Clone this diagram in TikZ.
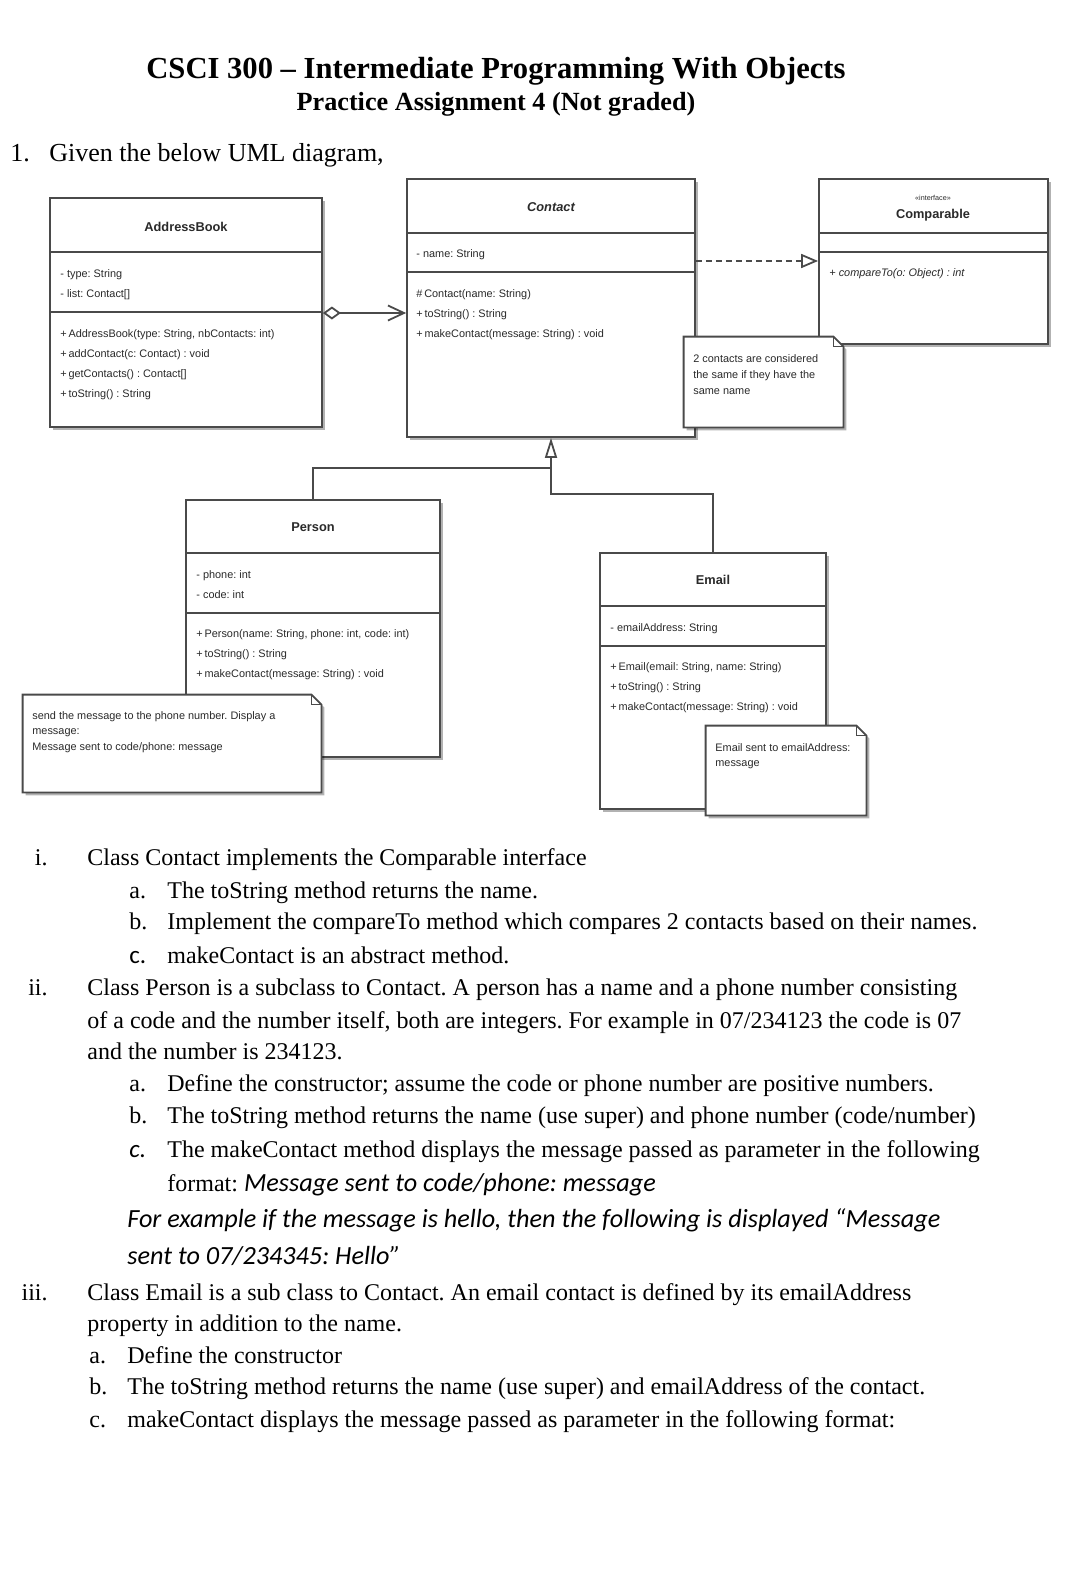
\documentclass[tikz,border=0pt]{standalone}
\usepackage{fontspec}
\setmainfont{Liberation Serif}
\newfontfamily\umlf{Liberation Sans}
\newfontfamily\calib{Carlito}
\usetikzlibrary{arrows.meta,fit,shadows}
\definecolor{umlline}{HTML}{4A4A4A}
\definecolor{umltext}{HTML}{2A2A2A}
\frenchspacing
\begin{document}
\begin{tikzpicture}[x=0.5pt,y=-0.5pt,
  classbox/.style={draw=umlline, line width=0.9pt, fill=white, inner sep=0pt,
    drop shadow={shadow xshift=1.5pt, shadow yshift=-1.5pt, fill=black, opacity=0.3}},
  divline/.style={draw=umlline, line width=0.9pt},
  umlconn/.style={draw=umlline, line width=0.9pt},
  mem/.style={anchor=base west, inner sep=0pt, font=\umlf\fontsize{5.45}{6}\selectfont, text=umltext},
  memit/.style={mem, font=\umlf\itshape\fontsize{5.45}{6}\selectfont},
  ctitle/.style={anchor=base, inner sep=0pt, font=\umlf\bfseries\fontsize{6.4}{7}\selectfont, text=umltext},
  noteframe/.style={inner sep=0pt},
  notepath/.style={draw=umlline, line width=0.9pt, fill=white,
    drop shadow={shadow xshift=1.5pt, shadow yshift=-1.5pt, fill=black, opacity=0.3}},
  body/.style={anchor=base west, inner sep=0pt, font=\fontsize{12}{14}\selectfont},
  bodyr/.style={anchor=base east, inner sep=0pt, font=\fontsize{12}{14}\selectfont},
  cal/.style={anchor=base west, inner sep=0pt, font=\calib\itshape\fontsize{13.1}{15}\selectfont}
]
\fill[white] (0,0) rectangle (1080,1595);
\useasboundingbox (0,0) rectangle (1080,1595);

% ---------- header ----------
\node[anchor=base, inner sep=0pt, font=\bfseries\fontsize{15.3}{18}\selectfont] (t1) at (496,79) {CSCI 300 – Intermediate Programming With Objects};
\node[anchor=base, inner sep=0pt, font=\bfseries\fontsize{13.1}{16}\selectfont] (t2) at (496,111) {Practice Assignment 4 (Not graded)};
\node[anchor=base west, inner sep=0pt, font=\fontsize{13}{15}\selectfont] (q1n) at (10,162) {1.};
\node[anchor=base west, inner sep=0pt, font=\fontsize{13}{15}\selectfont] (q1) at (49,162) {Given the below UML diagram,};

% ---------- class boxes ----------
\node[classbox, fit={(50,198) (322,427)}] (ab) {};
\draw[divline] (ab.west |- 0,252) -- (ab.east |- 0,252);
\draw[divline] (ab.west |- 0,312) -- (ab.east |- 0,312);
\node[ctitle] (abt) at (186,231) {AddressBook};
\node[mem] (ab1) at (60,277) {- type: String};
\node[mem] (ab2) at (60,297) {- list: Contact[]};
\node[mem] (ab3) at (60,337) {+\,AddressBook(type: String, nbContacts: int)};
\node[mem] (ab4) at (60,357) {+\,addContact(c: Contact) : void};
\node[mem] (ab5) at (60,377) {+\,getContacts() : Contact[]};
\node[mem] (ab6) at (60,397) {+\,toString() : String};

\node[classbox, fit={(407,179) (695,437)}] (ct) {};
\draw[divline] (ct.west |- 0,233) -- (ct.east |- 0,233);
\draw[divline] (ct.west |- 0,272) -- (ct.east |- 0,272);
\node[ctitle, font=\umlf\bfseries\itshape\fontsize{6.4}{7}\selectfont] (ctt) at (551,211) {Contact};
\node[mem] (ct1) at (416,257) {- name: String};
\node[mem] (ct2) at (416,297) {\#\,Contact(name: String)};
\node[mem] (ct3) at (416,317) {+\,toString() : String};
\node[mem] (ct4) at (416,337) {+\,makeContact(message: String) : void};

\node[classbox, fit={(819,179) (1048,344)}] (cmp) {};
\draw[divline] (cmp.west |- 0,233) -- (cmp.east |- 0,233);
\draw[divline] (cmp.west |- 0,252) -- (cmp.east |- 0,252);
\node[anchor=base, inner sep=0pt, font=\umlf\fontsize{3.6}{4}\selectfont, text=umltext] (cmps) at (933,200) {«interface»};
\node[ctitle] (cmpt) at (933,218) {Comparable};
\node[memit] (cmp1) at (829,276) {+ compareTo(o: Object) : int};

\node[classbox, fit={(186,500) (440,757)}] (ps) {};
\draw[divline] (ps.west |- 0,553) -- (ps.east |- 0,553);
\draw[divline] (ps.west |- 0,613) -- (ps.east |- 0,613);
\node[ctitle] (pst) at (313,531) {Person};
\node[mem] (ps1) at (196,578) {- phone: int};
\node[mem] (ps2) at (196,598) {- code: int};
\node[mem] (ps3) at (196,637) {+\,Person(name: String, phone: int, code: int)};
\node[mem] (ps4) at (196,657) {+\,toString() : String};
\node[mem] (ps5) at (196,677) {+\,makeContact(message: String) : void};

\node[classbox, fit={(600,553) (826,809)}] (em) {};
\draw[divline] (em.west |- 0,606) -- (em.east |- 0,606);
\draw[divline] (em.west |- 0,646) -- (em.east |- 0,646);
\node[ctitle] (emt) at (713,584) {Email};
\node[mem] (em1) at (610,631) {- emailAddress: String};
\node[mem] (em2) at (610,670) {+\,Email(email: String, name: String)};
\node[mem] (em3) at (610,690) {+\,toString() : String};
\node[mem] (em4) at (610,710) {+\,makeContact(message: String) : void};

% ---------- connectors ----------
\draw[umlconn, {Diamond[open,length=9pt,width=6.5pt]}-{Straight Barb[length=8pt,width=7.5pt]}]
  (ab.east |- 0,313) -- (ct.west |- 0,313);
\draw[umlconn, dash pattern=on 3pt off 2pt, -{Triangle[open,length=8.5pt,width=7pt]}]
  (ct.east |- 0,261) -- (cmp.west |- 0,261);
\coordinate (j1) at (551,468);
\coordinate (j2) at (551,494);
\draw[umlconn] (ps.north) |- (j1);
\draw[umlconn] (em.north) |- (j2) -- (j1);
\draw[umlconn, -{Triangle[open,length=10pt,width=6pt]}] (j1) -- (ct.south);

% ---------- notes ----------
\node[noteframe, fit={(684,337) (843,427)}] (n1) {};
\path[notepath] (n1.north west) -- ([xshift=-5pt]n1.north east) -- ([yshift=-5pt]n1.north east) -- (n1.south east) -- (n1.south west) -- cycle;
\draw[umlconn, line width=0.6pt] ([xshift=-5pt]n1.north east) -- ([xshift=-5pt,yshift=-5pt]n1.north east) -- ([yshift=-5pt]n1.north east);
\node[mem] (n1a) at (693,362) {2 contacts are considered};
\node[mem] (n1b) at (693,378) {the same if they have the};
\node[mem] (n1c) at (693,394) {same name};

\node[noteframe, fit={(23,695) (321,792)}] (n2) {};
\path[notepath] (n2.north west) -- ([xshift=-5pt]n2.north east) -- ([yshift=-5pt]n2.north east) -- (n2.south east) -- (n2.south west) -- cycle;
\draw[umlconn, line width=0.6pt] ([xshift=-5pt]n2.north east) -- ([xshift=-5pt,yshift=-5pt]n2.north east) -- ([yshift=-5pt]n2.north east);
\node[mem] (n2a) at (32,719) {send the message to the phone number. Display a};
\node[mem] (n2b) at (32,734) {message:};
\node[mem] (n2c) at (32,750) {Message sent to code/phone: message};

\node[noteframe, fit={(706,726) (866,815)}] (n3) {};
\path[notepath] (n3.north west) -- ([xshift=-5pt]n3.north east) -- ([yshift=-5pt]n3.north east) -- (n3.south east) -- (n3.south west) -- cycle;
\draw[umlconn, line width=0.6pt] ([xshift=-5pt]n3.north east) -- ([xshift=-5pt,yshift=-5pt]n3.north east) -- ([yshift=-5pt]n3.north east);
\node[mem] (n3a) at (715,751) {Email sent to emailAddress:};
\node[mem] (n3b) at (715,766) {message};

% ---------- questions ----------
\node[bodyr] (r1) at (48,865) {i.};
\node[body] (r1t) at (87,865) {Class Contact implements the Comparable interface};
\node[body] (r1a) at (129,898) {a.};
\node[body] (r1at) at (167,898) {The toString method returns the name.};
\node[body] (r1b) at (129,929) {b.};
\node[body] (r1bt) at (167,929) {Implement the compareTo method which compares 2 contacts based on their names.};
\node[body, font=\calib\fontsize{12.5}{14}\selectfont] (r1c) at (129,963) {c.};
\node[body] (r1ct) at (167,963) {makeContact is an abstract method.};

\node[bodyr] (r2) at (48,995) {ii.};
\node[body] (r2t) at (87,995) {Class Person is a subclass to Contact. A person has a name and a phone number consisting};
\node[body] (r2t2) at (87,1028) {of a code and the number itself, both are integers. For example in 07/234123 the code is 07};
\node[body] (r2t3) at (87,1059) {and the number is 234123.};
\node[body] (r2a) at (129,1091) {a.};
\node[body] (r2at) at (167,1091) {Define the constructor; assume the code or phone number are positive numbers.};
\node[body] (r2b) at (129,1123) {b.};
\node[body] (r2bt) at (167,1123) {The toString method returns the name (use super) and phone number (code/number)};
\node[body, font=\calib\itshape\fontsize{12.5}{14}\selectfont] (r2c) at (129,1157) {c.};
\node[body] (r2ct) at (167,1157) {The makeContact method displays the message passed as parameter in the following};
\node[body] (r2ct2) at (167,1191) {format: {\calib\itshape\fontsize{13.1}{15}\selectfont Message sent to code/phone: message}};
\node[cal] (r2ex1) at (127,1227) {For example if the message is hello, then the following is displayed “Message};
\node[cal] (r2ex2) at (127,1264) {sent to 07/234345: Hello”};

\node[bodyr] (r3) at (48,1300) {iii.};
\node[body] (r3t) at (87,1300) {Class Email is a sub class to Contact. An email contact is defined by its emailAddress};
\node[body] (r3t2) at (87,1331) {property in addition to the name.};
\node[body] (r3a) at (89,1363) {a.};
\node[body] (r3at) at (127,1363) {Define the constructor};
\node[body] (r3b) at (89,1394) {b.};
\node[body] (r3bt) at (127,1394) {The toString method returns the name (use super) and emailAddress of the contact.};
\node[body] (r3c) at (89,1427) {c.};
\node[body] (r3ct) at (127,1427) {makeContact displays the message passed as parameter in the following format:};
\end{tikzpicture}
\end{document}
